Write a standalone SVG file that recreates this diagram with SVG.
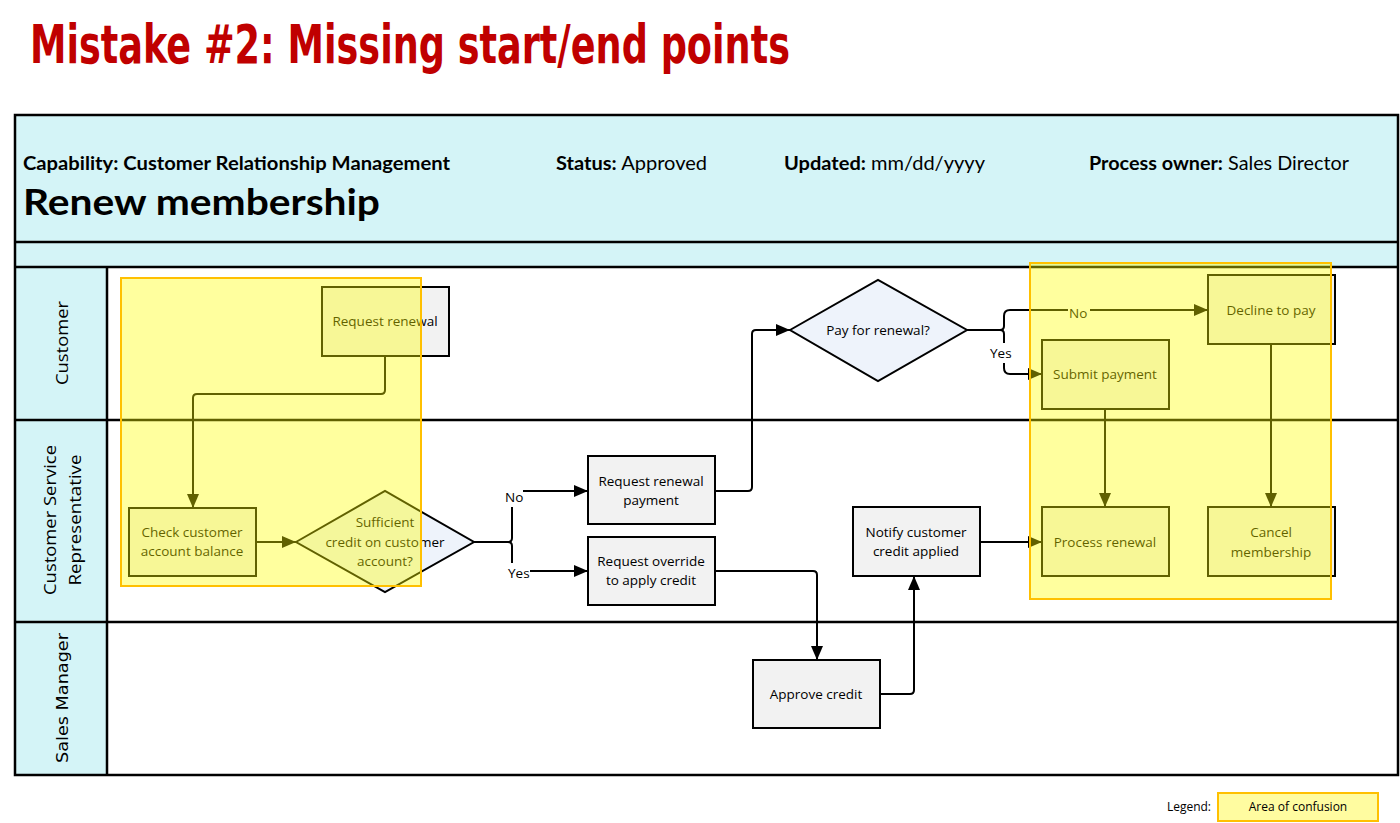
<svg xmlns="http://www.w3.org/2000/svg" width="1400" height="823" viewBox="0 0 1400 823">
<defs>
<marker id="arr" markerUnits="userSpaceOnUse" markerWidth="14" markerHeight="12" refX="14" refY="6" orient="auto">
<path d="M0,0 L14,6 L0,12 z" fill="#000"/>
</marker>
<style>
.box{fill:#f2f2f2;stroke:#000;stroke-width:2}
.dia{fill:#eef3fb;stroke:#000;stroke-width:2}
.t{font-family:"Open Sans","DejaVu Sans",sans-serif;font-size:13.5px;fill:#000;text-anchor:middle}
.lbl{font-family:"Open Sans","DejaVu Sans",sans-serif;font-size:13.5px;fill:#000}
.c{fill:none;stroke:#000;stroke-width:2}
.ca{fill:none;stroke:#000;stroke-width:2;marker-end:url(#arr)}
.hd{font-family:Lato,"Liberation Sans",sans-serif;font-size:19px;fill:#000}
.lane{font-family:"Open Sans","DejaVu Sans",sans-serif;font-size:17px;fill:#000;text-anchor:middle}
.conf{fill:#ffff00;fill-opacity:0.38;stroke:#ffc000;stroke-width:2}
</style>
</defs>
<rect width="1400" height="823" fill="#fff"/>
<text x="30" y="63" font-family="'Liberation Sans Narrow','DejaVu Sans Condensed','Liberation Sans',sans-serif" font-weight="bold" font-size="54" fill="#c00000" textLength="760" lengthAdjust="spacingAndGlyphs">Mistake #2: Missing start/end points</text>

<g id="frame">
<rect x="15" y="115" width="1383" height="152" fill="#d4f4f7"/>
<rect x="15" y="267" width="92" height="508" fill="#d4f4f7"/>
<rect x="107" y="267" width="1291" height="508" fill="#fff"/>
<rect x="15" y="115" width="1383" height="660" fill="none" stroke="#000" stroke-width="2.5"/>
<line x1="15" y1="242" x2="1398" y2="242" stroke="#000" stroke-width="2.5"/>
<line x1="15" y1="267" x2="1398" y2="267" stroke="#000" stroke-width="2.5"/>
<line x1="15" y1="420" x2="1398" y2="420" stroke="#000" stroke-width="2.5"/>
<line x1="15" y1="622" x2="1398" y2="622" stroke="#000" stroke-width="2.5"/>
<line x1="107" y1="267" x2="107" y2="775" stroke="#000" stroke-width="2.5"/>
</g>

<g id="header">
<text class="hd" x="23" y="170" font-weight="bold" textLength="427" lengthAdjust="spacingAndGlyphs">Capability: Customer Relationship Management</text>
<text class="hd" x="556" y="170" textLength="151" lengthAdjust="spacingAndGlyphs"><tspan font-weight="bold">Status:</tspan> Approved</text>
<text class="hd" x="784" y="170" textLength="201" lengthAdjust="spacingAndGlyphs"><tspan font-weight="bold">Updated:</tspan> mm/dd/yyyy</text>
<text class="hd" x="1089" y="170" textLength="260" lengthAdjust="spacingAndGlyphs"><tspan font-weight="bold">Process owner:</tspan> Sales Director</text>
<text x="23" y="215" font-family="Lato,'Liberation Sans',sans-serif" font-weight="bold" font-size="37" fill="#000" textLength="357" lengthAdjust="spacingAndGlyphs">Renew membership</text>
</g>

<g id="lane-labels">
<text class="lane" transform="translate(68,343) rotate(-90)" textLength="84" lengthAdjust="spacingAndGlyphs">Customer</text>
<text class="lane" transform="translate(56,520) rotate(-90)" textLength="150" lengthAdjust="spacingAndGlyphs">Customer Service</text>
<text class="lane" transform="translate(81,520) rotate(-90)" textLength="131" lengthAdjust="spacingAndGlyphs">Representative</text>
<text transform="translate(68,698) rotate(-90)" font-family="'DejaVu Sans',sans-serif" font-size="16" text-anchor="middle" fill="#000" textLength="130" lengthAdjust="spacingAndGlyphs">Sales Manager</text>
</g>

<g id="connectors">
<path class="ca" d="M385,356 V390 Q385,394 381,394 H197 Q193,394 193,398 V508"/>
<path class="ca" d="M256,542 H296"/>
<path class="c" d="M474,542 H508 Q512,542 512,538 V507 M508,542 Q512,542 512,546 V563"/>
<path class="ca" d="M523,491 H588"/>
<path class="ca" d="M530,571 H588"/>
<path class="ca" d="M715,491 H748 Q752,491 752,487 V334 Q752,330 756,330 H790"/>
<path class="c" d="M967,330 H1000 Q1004,330 1004,326 V316 Q1004,310 1010,310 H1068"/>
<path class="ca" d="M1090,310 H1208"/>
<path class="c" d="M1000,330 Q1004,330 1004,334 V343"/>
<path class="ca" d="M1004,363 V368 Q1004,374 1010,374 H1042"/>
<path class="ca" d="M715,571 H813 Q817,571 817,575 V660"/>
<path class="ca" d="M880,694 H910 Q914,694 914,690 V576"/>
<path class="ca" d="M980,542 H1042"/>
<path class="ca" d="M1105,409 V507"/>
<path class="ca" d="M1271,344 V507"/>
<text class="lbl" x="505" y="502">No</text>
<text class="lbl" x="508" y="578">Yes</text>
<text class="lbl" x="990" y="358">Yes</text>
<text class="lbl" x="1069" y="318">No</text>
</g>

<g id="n-request-renewal"><rect class="box" x="322" y="287" width="127" height="69"/><text class="t" x="385" y="326">Request renewal</text></g>
<g id="n-check-balance"><rect class="box" x="129" y="508" width="127" height="68"/><text class="t" x="192" y="537">Check customer</text><text class="t" x="192" y="556">account balance</text></g>
<g id="n-sufficient"><polygon class="dia" points="296,542 385,491 474,542 385,592"/><text class="t" x="385" y="527">Sufficient</text><text class="t" x="385" y="547">credit on customer</text><text class="t" x="385" y="566">account?</text></g>
<g id="n-req-payment"><rect class="box" x="588" y="456" width="127" height="68"/><text class="t" x="651" y="486">Request renewal</text><text class="t" x="651" y="505">payment</text></g>
<g id="n-req-override"><rect class="box" x="588" y="537" width="127" height="68"/><text class="t" x="651" y="566">Request override</text><text class="t" x="651" y="585">to apply credit</text></g>
<g id="n-pay"><polygon class="dia" points="790,330 878,280 967,330 878,381"/><text class="t" x="878" y="335">Pay for renewal?</text></g>
<g id="n-notify"><rect class="box" x="853" y="507" width="127" height="69"/><text class="t" x="916" y="537">Notify customer</text><text class="t" x="916" y="556">credit applied</text></g>
<g id="n-approve"><rect class="box" x="753" y="660" width="127" height="68"/><text class="t" x="816" y="699">Approve credit</text></g>
<g id="n-submit"><rect class="box" x="1042" y="340" width="127" height="69"/><text class="t" x="1105" y="379">Submit payment</text></g>
<g id="n-decline"><rect class="box" x="1208" y="275" width="127" height="69"/><text class="t" x="1271" y="315">Decline to pay</text></g>
<g id="n-process"><rect class="box" x="1042" y="507" width="127" height="69"/><text class="t" x="1105" y="547">Process renewal</text></g>
<g id="n-cancel"><rect class="box" x="1208" y="507" width="127" height="69"/><text class="t" x="1271" y="537">Cancel</text><text class="t" x="1271" y="557">membership</text></g>

<g id="confusion-areas">
<rect class="conf" x="121" y="278" width="300" height="308"/>
<rect class="conf" x="1030" y="263" width="301" height="336"/>
</g>

<g id="legend">
<text x="1211" y="811" font-family="'Open Sans','DejaVu Sans',sans-serif" font-size="12" text-anchor="end" fill="#000">Legend:</text>
<rect x="1218" y="793" width="160" height="28" fill="#fffca0" stroke="#ffc000" stroke-width="2"/>
<text x="1298" y="811" font-family="'Open Sans','DejaVu Sans',sans-serif" font-size="12" text-anchor="middle" fill="#000">Area of confusion</text>
</g>
</svg>
